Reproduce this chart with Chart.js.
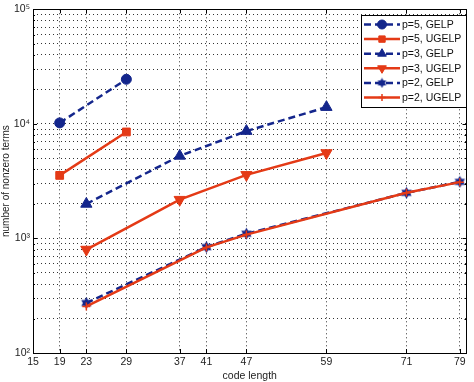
<!DOCTYPE html>
<html><head><meta charset="utf-8">
<script src="https://cdn.jsdelivr.net/npm/chart.js@4/dist/chart.umd.min.js"></script>
<style>html,body{margin:0;padding:0;background:#fff;}#wrap{width:474px;height:382px;}</style>
</head><body><div id="wrap"><canvas id="c" width="474" height="382"></canvas></div>
<script>
const xTicks = [15, 19, 23, 29, 37, 41, 47, 59, 71, 79];
const xP5 = [19, 29];
const p5GELP = [10200, 24500];
const p5UGELP = [3550, 8500];
const xP3 = [23, 37, 47, 59];
const p3GELP = [2000, 5250, 8650, 14000];
const p3UGELP = [800, 2180, 3590, 5570];
const xP2 = [23, 41, 47, 71, 79];
const p2GELP = [273, 840, 1100, 2500, 3120];
const p2UGELP = [255, 835, 1080, 2500, 3100];
const seriesLabels = ['p=5, GELP', 'p=5, UGELP', 'p=3, GELP', 'p=3, UGELP', 'p=2, GELP', 'p=2, UGELP'];

const BLUE = 'rgb(20,38,140)';
const RED = 'rgb(228,58,22)';
const FONT = "'Liberation Sans', Arial, sans-serif";

function hexagram(size, color) {
  const c = document.createElement('canvas');
  c.width = size; c.height = size;
  const g = c.getContext('2d');
  const cx = size / 2, cy = size / 2, r = size / 2 - 0.5;
  g.fillStyle = color;
  for (const off of [-Math.PI / 2, Math.PI / 2]) {
    g.beginPath();
    for (let k = 0; k < 3; k++) {
      const a = off + k * 2 * Math.PI / 3;
      const px = cx + r * Math.cos(a), py = cy + r * Math.sin(a);
      if (k === 0) g.moveTo(px, py); else g.lineTo(px, py);
    }
    g.closePath(); g.fill();
  }
  return c;
}
const starImg = hexagram(13, BLUE);
const starLegend = hexagram(11, BLUE);

function pts(xs, ys) { return xs.map((x, i) => ({ x: x, y: ys[i] })); }

const styles = [
  { color: BLUE, dash: [7, 4], pointStyle: 'circle', radius: 5, lr: 4.5, rotation: 0 },
  { color: RED, dash: [], pointStyle: 'rect', radius: 5.5, lr: 4.5, rotation: 0 },
  { color: BLUE, dash: [7, 4], pointStyle: 'triangle', radius: 6.5, lr: 5, rotation: 0 },
  { color: RED, dash: [], pointStyle: 'triangle', radius: 6.5, lr: 5, rotation: 180 },
  { color: BLUE, dash: [7, 4], pointStyle: starImg, radius: 6, lr: 5, rotation: 0 },
  { color: RED, dash: [], pointStyle: 'cross', radius: 4, lr: 3.5, rotation: 0 },
];
const dataSets = [pts(xP5, p5GELP), pts(xP5, p5UGELP), pts(xP3, p3GELP), pts(xP3, p3UGELP), pts(xP2, p2GELP), pts(xP2, p2UGELP)];

const datasets = dataSets.map((d, i) => ({
  label: seriesLabels[i],
  data: d,
  borderColor: styles[i].color,
  backgroundColor: styles[i].color,
  borderWidth: 2.5,
  borderDash: styles[i].dash,
  pointStyle: styles[i].pointStyle,
  pointRadius: styles[i].radius,
  pointRotation: styles[i].rotation,
  pointBorderWidth: i === 5 ? 1.5 : 1,
  pointBackgroundColor: styles[i].color,
  pointBorderColor: styles[i].color,
  order: 6 - i,
  tension: 0,
  fill: false
}));

const supers = { '2': '²', '3': '³', '4': '⁴', '5': '⁵' };

const framePlugin = {
  id: 'frame',
  afterDraw(chart) {
    const { ctx, chartArea: a } = chart;
    ctx.save();
    ctx.strokeStyle = '#000';
    ctx.lineWidth = 1;
    ctx.strokeRect(Math.round(a.left) + 0.5, Math.round(a.top) + 0.5, Math.round(a.right - a.left) - 1, Math.round(a.bottom - a.top));
    const xs = chart.scales.x, ys = chart.scales.y;
    ctx.beginPath();
    xTicks.forEach(v => {
      const px = Math.round(xs.getPixelForValue(v)) + 0.5;
      ctx.moveTo(px, a.bottom); ctx.lineTo(px, a.bottom - 4);
      ctx.moveTo(px, a.top); ctx.lineTo(px, a.top + 4);
    });
    ys.ticks.forEach(t => {
      const py = Math.round(ys.getPixelForValue(t.value)) + 0.5;
      const major = Math.abs(Math.log10(t.value) % 1) < 1e-9;
      const len = major ? 4 : 2;
      ctx.moveTo(a.left, py); ctx.lineTo(a.left + len, py);
      ctx.moveTo(a.right, py); ctx.lineTo(a.right - len, py);
    });
    ctx.stroke();

    // legend
    const lx = 361, ly = 15, lw = 105, lh = 92;
    ctx.fillStyle = '#fff';
    ctx.fillRect(lx, ly, lw, lh);
    ctx.strokeRect(lx + 0.5, ly + 0.5, lw, lh);
    chart.data.datasets.forEach((ds, i) => {
      const y = ly + 9.5 + i * 14.6;
      ctx.save();
      ctx.strokeStyle = ds.borderColor;
      ctx.lineWidth = 2.5;
      ctx.setLineDash(ds.borderDash);
      ctx.beginPath(); ctx.moveTo(364, y); ctx.lineTo(400, y); ctx.stroke();
      ctx.setLineDash([]);
      ctx.fillStyle = ds.borderColor;
      ctx.lineWidth = ds.pointBorderWidth;
      if (typeof ds.pointStyle === 'string') {
        Chart.helpers.drawPoint(ctx, { pointStyle: ds.pointStyle, radius: styles[i].lr, rotation: ds.pointRotation, borderWidth: ds.pointBorderWidth }, 382, y);
      } else {
        ctx.drawImage(starLegend, 382 - starLegend.width / 2, y - starLegend.height / 2);
      }
      ctx.restore();
      ctx.fillStyle = '#111';
      ctx.font = '10.5px ' + FONT;
      ctx.textBaseline = 'middle';
      ctx.textAlign = 'left';
      ctx.fillText(ds.label, 402, y + 0.5);
    });
    ctx.restore();
  }
};

new Chart(document.getElementById('c'), {
  type: 'line',
  data: { datasets: datasets },
  options: {
    responsive: false,
    animation: false,
    devicePixelRatio: 1,
    layout: { padding: { top: 7, right: 1, left: 0, bottom: 0 } },
    plugins: { legend: { display: false }, tooltip: { enabled: false } },
    scales: {
      x: {
        type: 'linear', min: 15, max: 80,
        afterBuildTicks(s) { s.ticks = xTicks.map(v => ({ value: v })); },
        afterFit(s) { s.height = 29; },
        ticks: { color: '#222', font: { family: FONT, size: 10.5 }, padding: 3, autoSkip: false, maxRotation: 0,
          callback: v => String(v) },
        grid: { color: '#333', lineWidth: 1, drawTicks: false },
        border: { display: false, dash: [1, 3] },
        title: { display: true, text: 'code length', color: '#222', font: { family: FONT, size: 10.5 }, padding: { top: 0, bottom: 0 } }
      },
      y: {
        type: 'logarithmic', min: 100, max: 100000,
        afterBuildTicks(s) {
          const t = [];
          for (let e = 2; e <= 4; e++) for (let m = 1; m <= 9; m++) t.push({ value: m * Math.pow(10, e) });
          t.push({ value: 100000 });
          s.ticks = t;
        },
        afterFit(s) { s.width = 33; },
        ticks: { color: '#222', font: { family: FONT, size: 10.5 }, padding: 3, autoSkip: false,
          callback(v) {
            const e = Math.log10(v);
            if (Math.abs(e - Math.round(e)) < 1e-9) return '10' + supers[String(Math.round(e))];
            return '';
          } },
        grid: { color: '#333', lineWidth: 1, drawTicks: false },
        border: { display: false, dash: [1, 3] },
        title: { display: true, text: 'number of nonzero terms', color: '#222', font: { family: FONT, size: 10 }, padding: { top: 0, bottom: 0 } }
      }
    }
  },
  plugins: [framePlugin]
});
</script>
</body></html>
